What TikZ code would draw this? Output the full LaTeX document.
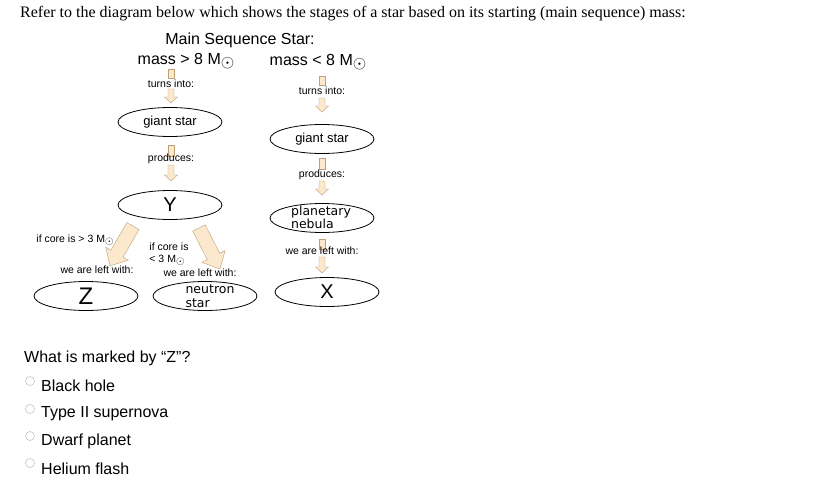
\documentclass[tikz,border=0pt]{standalone}
\usepackage{fontspec}
\setmainfont{Liberation Sans}
\newfontfamily\serifA{Liberation Serif}
\newfontfamily\dvs{DejaVu Sans}
\usetikzlibrary{shapes.geometric}
\definecolor{beige}{RGB}{252,232,205}
\definecolor{tan}{RGB}{190,160,120}
\newcommand{\Msun}{M\raisebox{-0.35ex}{$\odot$}}
\newcommand{\fatarr}[4]{% x,y,angle,length
  \draw[draw=tan,fill=beige,shift={(#1,#2)},rotate=#3]
    (0,-3) -- (#4-6,-3) -- (#4-6,-6.5) -- (#4,0) -- (#4-6,6.5) -- (#4-6,3) -- (0,3) -- cycle;}
\newcommand{\bigarr}[4]{% x,y,angle,length
  \draw[draw=tan,fill=beige,shift={(#1,#2)},rotate=#3]
    (0,-7) -- (#4-14,-7) -- (#4-14,-13) -- (#4,0) -- (#4-14,13) -- (#4-14,7) -- (0,7) -- cycle;}
\newcommand{\stub}[3]{% x,y,length
  \draw[draw=tan,fill=beige] (#1-3,#2) rectangle (#1+3,#2+#3);}
\tikzset{
  stage/.style={ellipse,draw,thick,minimum width=104pt,minimum height=29pt,inner sep=0pt},
  lab/.style={font=\fontsize{10.5}{11.5}\selectfont,inner sep=1pt},
  opt/.style={circle,draw=gray!60,minimum size=9pt,inner sep=0pt},
  otext/.style={anchor=west,font=\fontsize{16}{18}\selectfont,inner sep=0pt}
}
\begin{document}
\begin{tikzpicture}[x=1pt,y=-1pt]
\useasboundingbox[fill=white] (0,0) rectangle (818,482);
\node[anchor=west,font=\serifA\fontsize{16}{18}\selectfont,inner sep=0] (title) at (20,14) {Refer to the diagram below which shows the stages of a star based on its starting (main sequence) mass:};
\node[font=\fontsize{16}{18}\selectfont,inner sep=0] (ms) at (240,40) {Main Sequence Star:};
\node[font=\fontsize{16}{18}\selectfont,inner sep=0] (hi) at (186,61) {mass > 8 \Msun};
\node[font=\fontsize{16}{18}\selectfont,inner sep=0] (lo) at (318,62) {mass < 8 \Msun};
% arrows (behind text)
\stub{171}{69}{9}
\fatarr{171}{89}{-90}{14}
\stub{171}{145}{11}
\fatarr{171}{165}{-90}{16}
\stub{322}{76}{9}
\fatarr{322}{98}{-90}{14}
\stub{322}{158}{11}
\fatarr{322}{181}{-90}{14}
\stub{322}{239}{10}
\fatarr{322}{257}{-90}{16}
\bigarr{133}{226}{-120}{46}
\bigarr{199}{228}{-63}{46}
% left column
\node[lab] (t1) at (171,84) {turns into:};
\node[stage] (g1) at (170,122) {\fontsize{13}{15}\selectfont giant star};
\node[lab] (p1) at (171,159) {produces:};
\node[stage] (y) at (170,205) {\fontsize{20}{22}\selectfont Y};
% right column
\node[lab] (t2) at (322,91) {turns into:};
\node[stage] (g2) at (322,139) {\fontsize{13}{15}\selectfont giant star};
\node[lab] (p2) at (322,175) {produces:};
\node[stage] (pn) at (322,218) {};
\node[font=\dvs\fontsize{12.5}{13}\selectfont,align=left,inner sep=0] (pnt) at (321,217) {planetary\\nebula};
\node[lab] (w3) at (322,251) {we are left with:};
\node[stage] (x) at (327,292) {\fontsize{20}{22}\selectfont X};
% bottom left
\node[lab] (c1) at (75,240) {if core is > 3 \Msun};
\node[lab] (w1) at (97,270) {we are left with:};
\node[lab,align=left] (c2) at (169,254) {if core is\\< 3 \Msun};
\node[lab] (w2) at (200,273) {we are left with:};
\node[stage] (z) at (86,296) {\fontsize{24}{26}\selectfont Z};
\node[stage] (ns) at (205,296) {};
\node[font=\dvs\fontsize{12.5}{14}\selectfont,align=left,inner sep=0] (nst) at (210,296) {neutron\\star};
% question
\node[otext] (q) at (24,358) {What is marked by “Z”?};
\node[opt] (o1) at (30,381) {};
\node[otext] (l1) at (41,386) {Black hole};
\node[opt] (o2) at (30,409) {};
\node[otext] (l2) at (41,414) {Type II supernova};
\node[opt] (o3) at (30,436) {};
\node[otext] (l3) at (41,441) {Dwarf planet};
\node[opt] (o4) at (30,463) {};
\node[otext] (l4) at (41,469) {Helium flash};
\end{tikzpicture}
\end{document}
